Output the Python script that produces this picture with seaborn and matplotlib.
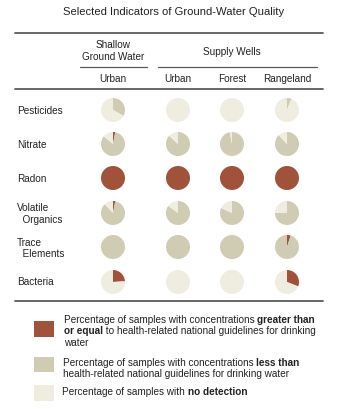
import matplotlib
matplotlib.use("Agg")
import matplotlib.pyplot as plt
import seaborn as sns
from matplotlib.patches import Rectangle

sns.set_theme(style="white")
plt.rcParams['font.family'] = ['Liberation Sans', 'DejaVu Sans']

# ---- data ----
title = "Selected Indicators of Ground-Water Quality"
indicators = ["Pesticides", "Nitrate", "Radon", "Volatile\n  Organics", "Trace\n  Elements", "Bacteria"]
columns = ["Urban", "Urban", "Forest", "Rangeland"]
group_labels = ["Shallow\nGround Water", "Supply Wells"]
# percentages per indicator (rows) and column: above guideline, below guideline, no detection
above = [
    [0, 0, 0, 0],
    [3, 0, 0, 0],
    [100, 100, 100, 100],
    [3, 0, 0, 0],
    [0, 0, 0, 5],
    [24, 0, 0, 31],
]
below = [
    [33, 0, 0, 6],
    [83, 87, 97, 88],
    [0, 0, 0, 0],
    [85, 85, 82, 75],
    [100, 100, 100, 95],
    [0, 0, 0, 0],
]
nodetect = [
    [67, 100, 100, 94],
    [14, 13, 3, 12],
    [0, 0, 0, 0],
    [12, 15, 18, 25],
    [0, 0, 0, 0],
    [76, 100, 100, 69],
]
legend_labels = [
    [("Percentage of samples with concentrations ", False), ("greater than", True), ("\n", None),
     ("or equal", True), (" to health-related national guidelines for drinking", False), ("\n", None),
     ("water", False)],
    [("Percentage of samples with concentrations ", False), ("less than", True), ("\n", None),
     ("health-related national guidelines for drinking water", False)],
    [("Percentage of samples with ", False), ("no detection", True)],
]

colors = ["#A0523A", "#D0CCB3", "#EFEDDF"]
line_color = "#5a5a5a"
text_color = "#222222"

W, H = 340, 410
fig = plt.figure(figsize=(W / 100, H / 100), dpi=100)
ax = fig.add_axes([0, 0, 1, 1])

def Y(py):
    return H - py

col_x = [113, 178, 232, 287]
row_y = [111, 145, 179, 214, 248, 283]
radius = 12

for i in range(len(indicators)):
    for j in range(len(columns)):
        vals = [above[i][j], below[i][j], nodetect[i][j]]
        cols = [c for v, c in zip(vals, colors) if v > 0]
        vv = [v for v in vals if v > 0]
        ax.pie(vv, colors=cols, center=(col_x[j], Y(row_y[i])), radius=radius,
               startangle=90, counterclock=False, frame=True,
               wedgeprops=dict(linewidth=0))

ax.set_xlim(0, W)
ax.set_ylim(0, H)
ax.set_aspect('equal')
ax.axis('off')

fs = 7.2
# title
ax.text(174, Y(12), title, ha='center', va='center', fontsize=8.1, color=text_color)

# rules
ax.plot([15, 323], [Y(34), Y(34)], color=line_color, lw=1.3)
ax.plot([15, 323], [Y(90), Y(90)], color=line_color, lw=1.3)
ax.plot([15, 323], [Y(302), Y(302)], color=line_color, lw=1.3)
ax.plot([80, 147], [Y(67.5), Y(67.5)], color=line_color, lw=0.9)
ax.plot([158, 317], [Y(67.5), Y(67.5)], color=line_color, lw=0.9)

# group headers
ax.text(113, Y(50.5), group_labels[0], ha='center', va='center', fontsize=fs,
        color=text_color, linespacing=1.25)
ax.text(232, Y(52), group_labels[1], ha='center', va='center', fontsize=fs, color=text_color)
for x, lab in zip(col_x, columns):
    ax.text(x, Y(79), lab, ha='center', va='center', fontsize=fs, color=text_color)

# row labels
label_y = [111, 145, 179, 214, 248.5, 282]
for y, lab in zip(label_y, indicators):
    ax.text(17, Y(y), lab, ha='left', va='center', fontsize=fs, color=text_color,
            linespacing=1.2)

# legend
sq = [(34, 322, 338), (34, 358, 373), (34, 386, 402)]
text_start = [(64, 320), (63, 363), (62, 392)]
for k in range(3):
    x0, y0, y1 = sq[k]
    ax.add_patch(Rectangle((x0, Y(y1)), 20, y1 - y0, facecolor=colors[k], edgecolor='none'))
    tx, ty = text_start[k]
    line = 0
    prev = None
    for part, bold in legend_labels[k]:
        if part == "\n":
            line += 1
            prev = None
            continue
        weight = 'bold' if bold else 'normal'
        if prev is None:
            prev = ax.text(tx, Y(ty + 11.5 * line), part, ha='left', va='center',
                           fontsize=fs, color=text_color, fontweight=weight)
        else:
            prev = ax.annotate(part, xy=(1, 0), xycoords=prev, ha='left', va='bottom',
                               fontsize=fs, color=text_color, fontweight=weight)

fig.savefig("out.png", dpi=100, facecolor='white')
